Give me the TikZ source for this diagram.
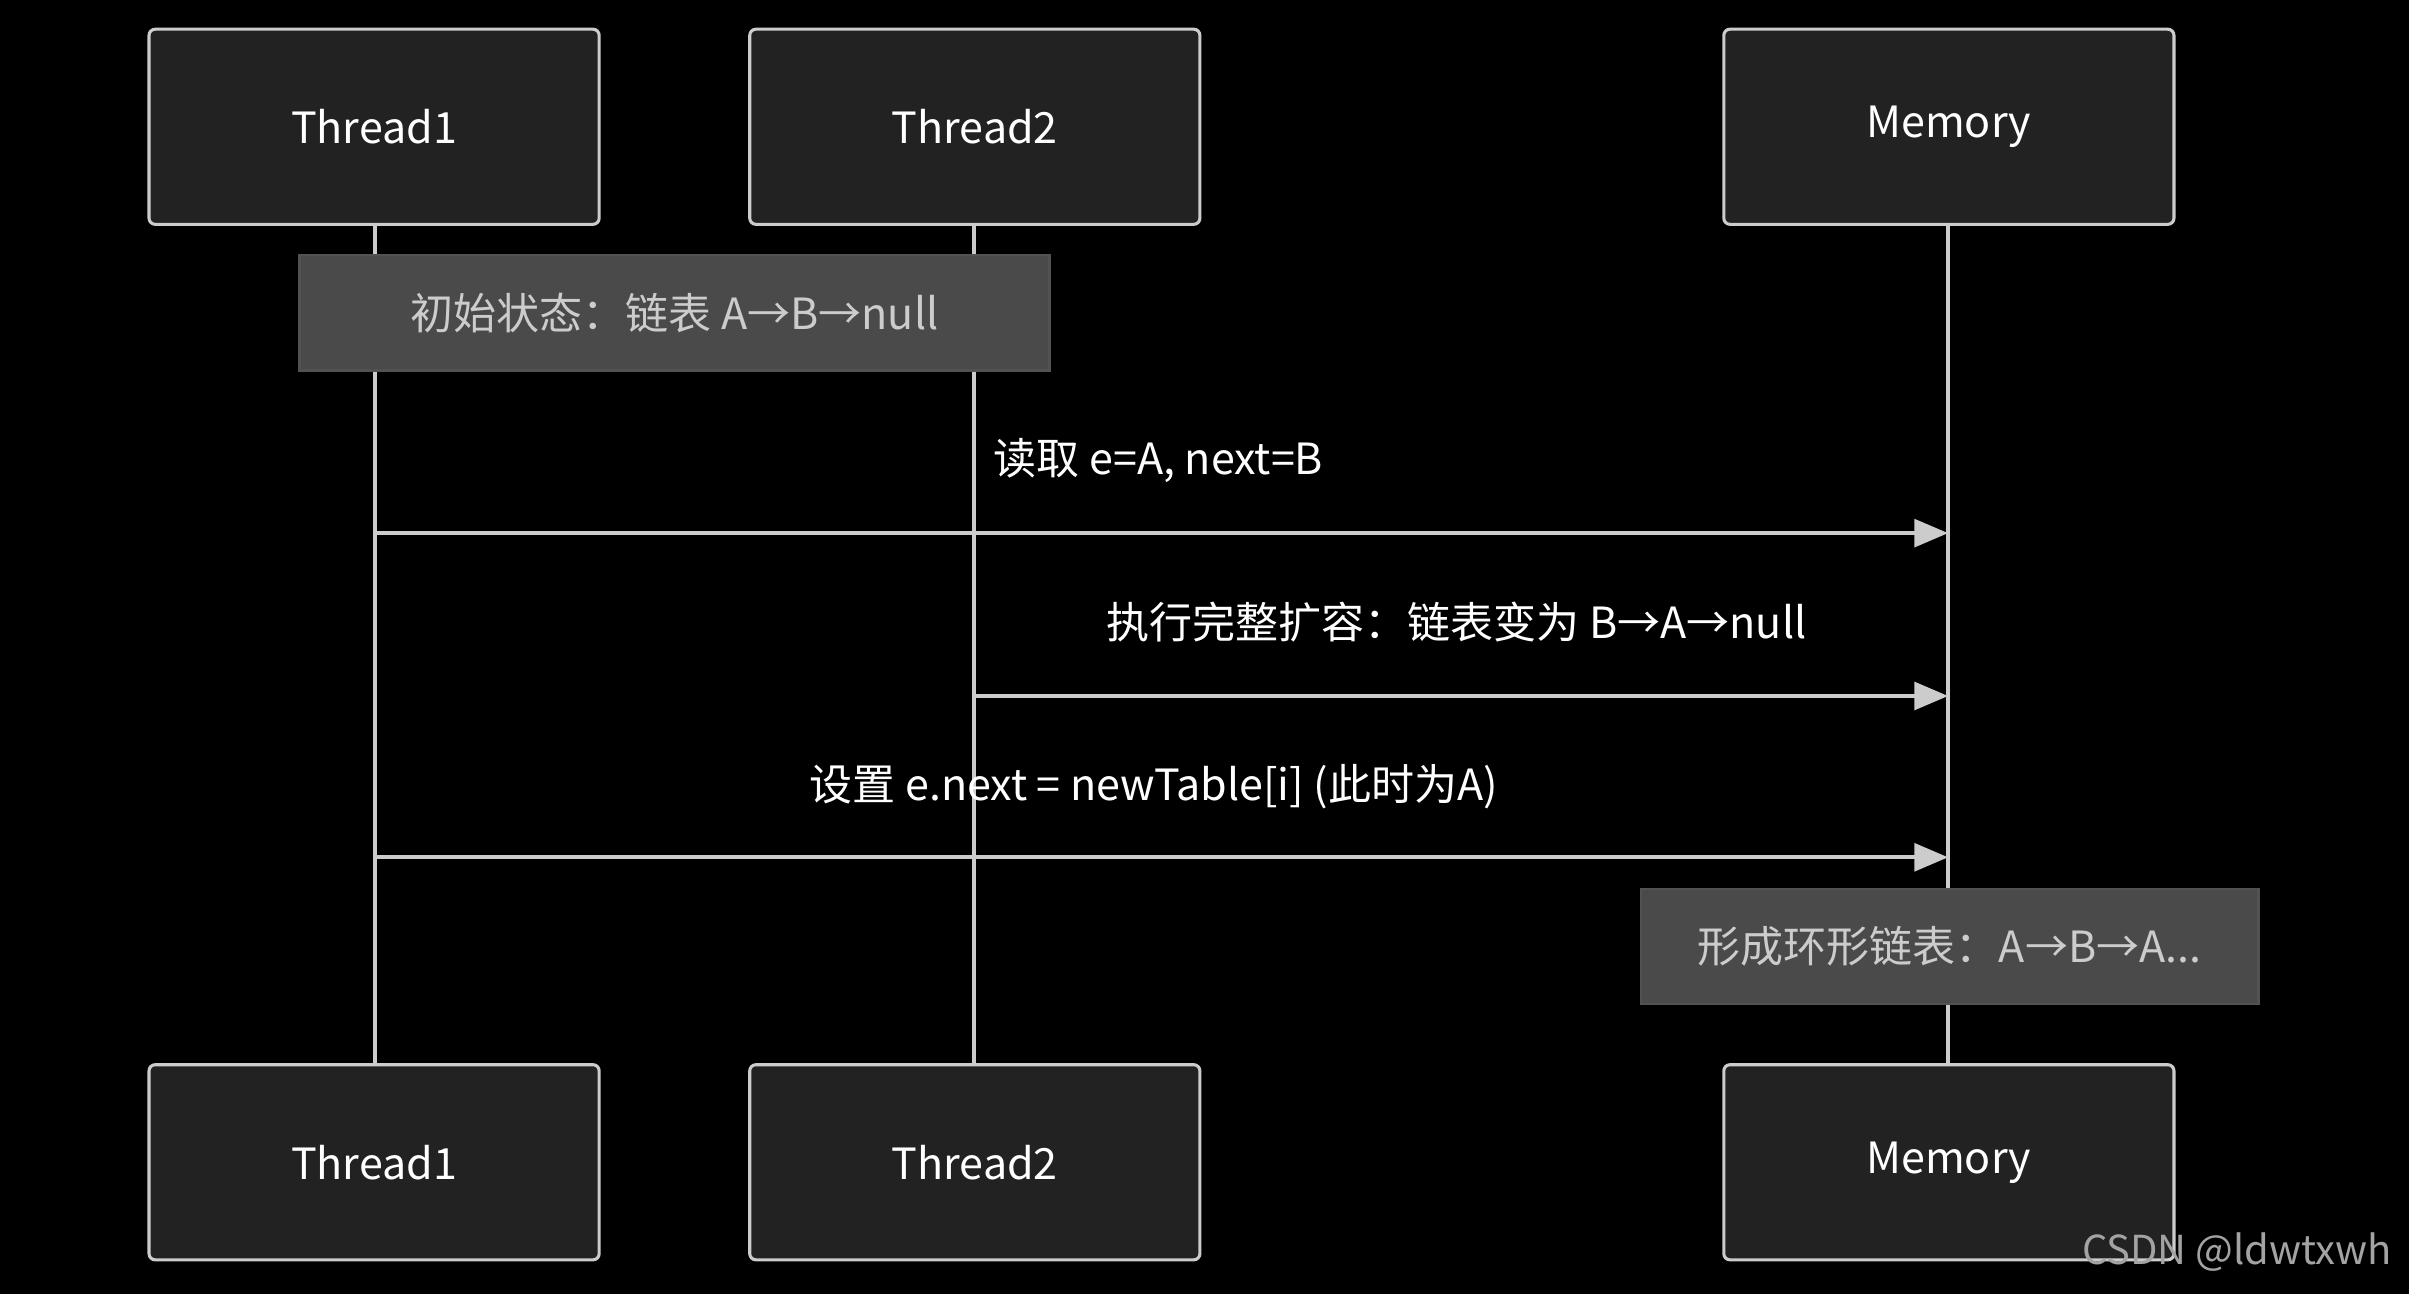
\documentclass[tikz,border=0pt]{standalone}
\usepackage{fontspec}
\setmainfont{Noto Sans CJK SC}
\usetikzlibrary{arrows.meta}
\definecolor{bx}{HTML}{222222}
\definecolor{ln}{HTML}{CCCCCC}
\definecolor{nt}{HTML}{4A4A4A}
\begin{document}
\begin{tikzpicture}[x=0.5pt,y=-0.5pt,
  actor/.style={draw=ln,fill=bx,line width=1pt,rounded corners=2pt,minimum width=146.5pt,minimum height=63.5pt,text=white,font=\fontsize{14}{16}\selectfont},
  note/.style={draw=ln!40!black,fill=nt,line width=0.8pt,minimum height=37.5pt,text=ln,font=\fontsize{14}{16}\selectfont},
  life/.style={draw=ln,line width=1.3pt},
  msg/.style={draw=ln,line width=1.3pt,-{Triangle[length=11pt,width=9pt]}},
  lbl/.style={text=white,font=\fontsize{14}{16}\selectfont}]
\fill[black] (0,0) rectangle (1568,842);
\useasboundingbox (0,0) rectangle (1568,842);
\draw[life] (244,146) -- (244,693);
\draw[life] (634,146) -- (634,693);
\draw[life] (1268,146) -- (1268,693);
\node[actor] (t1) at (243.5,82.5) {Thread1};
\node[actor] (t2) at (634.5,82.5) {Thread2};
\node[actor] (m) at (1268.5,82.5) {Memory};
\node[actor] (t1b) at (243.5,756.5) {Thread1};
\node[actor] (t2b) at (634.5,756.5) {Thread2};
\node[actor] (mb) at (1268.5,756.5) {Memory};
\node[note,minimum width=244pt] (n1) at (439,203.5) {初始状态：链表 A→B→null};
\node[note,minimum width=201pt] (n2) at (1269,616) {形成环形链表：A→B→A...};
\coordinate (a1) at (244,347); \coordinate (b1) at (1268,347);
\coordinate (a2) at (634,453); \coordinate (b2) at (1268,453);
\coordinate (a3) at (244,558); \coordinate (b3) at (1268,558);
\draw[msg] (a1) -- (b1);
\draw[msg] (a2) -- (b2);
\draw[msg] (a3) -- (b3);
\node[lbl] (l1) at (754,300) {读取 e=A, next=B};
\node[lbl] (l2) at (948,405) {执行完整扩容：链表变为 B→A→null};
\node[lbl] (l3) at (751,512) {设置 e.next = newTable[i] (此时为A)};
\node[text=ln!80!black,font=\fontsize{13}{15}\selectfont,anchor=east] (wm) at (1564,815) {CSDN @ldwtxwh};
\end{tikzpicture}
\end{document}
